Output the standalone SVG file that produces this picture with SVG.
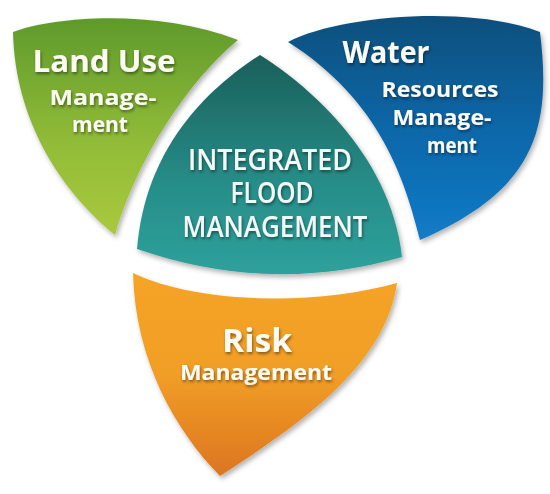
<svg xmlns="http://www.w3.org/2000/svg" width="550" height="494" viewBox="0 0 550 494">
<style>
.t{font-family:"Open Sans","Noto Sans","DejaVu Sans",sans-serif;font-weight:700;fill:#fbfbf4;text-anchor:middle;filter:url(#ts);}
.c{font-family:"Open Sans","Noto Sans","DejaVu Sans",sans-serif;font-weight:600;fill:#f4f8f6;text-anchor:middle;filter:url(#ts);}
.shape{filter:url(#ss);}
</style>
<defs>
<linearGradient id="gGreen" x1="0" y1="0" x2="0" y2="1">
<stop offset="0" stop-color="#5f9a2b"/>
<stop offset="0.6" stop-color="#93bd38"/>
<stop offset="1" stop-color="#aac83d"/>
</linearGradient>
<linearGradient id="gTeal" x1="0" y1="0" x2="0" y2="1">
<stop offset="0" stop-color="#1b5f5a"/>
<stop offset="0.6" stop-color="#278e89"/>
<stop offset="1" stop-color="#2ea19c"/>
</linearGradient>
<linearGradient id="gBlue" x1="0" y1="0" x2="0" y2="1">
<stop offset="0" stop-color="#0e4f7c"/>
<stop offset="0.5" stop-color="#0f67a8"/>
<stop offset="1" stop-color="#127bc8"/>
</linearGradient>
<linearGradient id="gOrange" x1="0" y1="0" x2="0" y2="1">
<stop offset="0" stop-color="#f5a425"/>
<stop offset="0.5" stop-color="#f19e26"/>
<stop offset="1" stop-color="#dc7520"/>
</linearGradient>
<filter id="ss" x="-10%" y="-10%" width="125%" height="125%">
<feDropShadow dx="2" dy="3" stdDeviation="2.5" flood-color="#000" flood-opacity="0.3"/>
</filter>
<filter id="ts" x="-10%" y="-20%" width="120%" height="160%">
<feDropShadow dx="1" dy="2" stdDeviation="1.5" flood-color="#000" flood-opacity="0.45"/>
</filter>
</defs>
<g id="connectors"></g>
<g id="land-use">
<path class="shape" fill="url(#gGreen)" d="M13,32 C60,15 160,10 238,40 C195,75 140,150 115,235 C60,190 15,120 13,32 Z"/>
<text class="t" x="104" y="72" font-size="31" textLength="143" lengthAdjust="spacingAndGlyphs">Land Use</text>
<text class="t" x="103" y="105" font-size="21" textLength="107" lengthAdjust="spacingAndGlyphs">Manage-</text>
<text class="t" x="100" y="132" font-size="21" textLength="56" lengthAdjust="spacingAndGlyphs">ment</text>
</g>
<g id="water">
<path class="shape" fill="url(#gBlue)" d="M288,42 C340,15 470,5 540,32 C552,130 535,190 420,240 C405,180 380,100 288,42 Z"/>
<text class="t" x="386" y="63" font-size="31" textLength="87" lengthAdjust="spacingAndGlyphs">Water</text>
<text class="t" x="440" y="97" font-size="21" textLength="117" lengthAdjust="spacingAndGlyphs">Resources</text>
<text class="t" x="442" y="125" font-size="21" textLength="99" lengthAdjust="spacingAndGlyphs">Manage-</text>
<text class="t" x="452" y="153" font-size="21" textLength="50" lengthAdjust="spacingAndGlyphs">ment</text>
</g>
<g id="risk">
<path class="shape" fill="url(#gOrange)" d="M133,273 C200,305 320,305 397,283 C385,370 290,430 220,476 C175,430 135,360 133,273 Z"/>
<text class="t" x="257" y="352" font-size="32" textLength="70" lengthAdjust="spacingAndGlyphs">Risk</text>
<text class="t" x="256" y="380" font-size="22" textLength="152" lengthAdjust="spacingAndGlyphs">Management</text>
</g>
<g id="integrated">
<path class="shape" fill="url(#gTeal)" d="M260,55 C300,80 390,150 402,257 Q270,295 137,249 C145,150 205,90 260,55 Z"/>
<text class="c" x="270" y="170" font-size="29" textLength="164" lengthAdjust="spacingAndGlyphs">INTEGRATED</text>
<text class="c" x="272" y="203" font-size="29" textLength="83" lengthAdjust="spacingAndGlyphs">FLOOD</text>
<text class="c" x="275" y="237" font-size="29" textLength="185" lengthAdjust="spacingAndGlyphs">MANAGEMENT</text>
</g>
</svg>
